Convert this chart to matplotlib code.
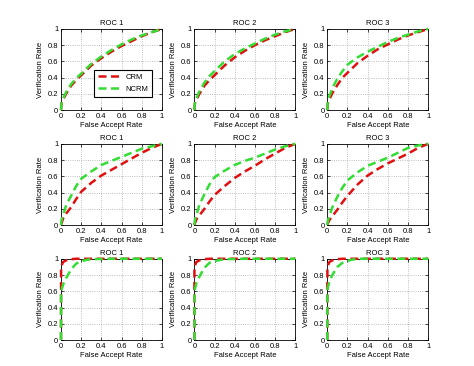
"""
plot.py
=============================
3x3 grid of ROC curves, CRM vs NCRM.
"""

import numpy as np
import matplotlib.pyplot as plt

# False accept rate grids
FAR = [0, 0.005, 0.02, 0.05, 0.1, 0.15, 0.2, 0.3, 0.4, 0.5, 0.6, 0.7, 0.8, 0.9, 1.0]
FAR_Low = [0, 0.001, 0.02, 0.05, 0.1, 0.15, 0.2, 0.25, 0.3, 0.5, 1.0]

Titles = ['ROC 1', 'ROC 2', 'ROC 3']

# Row 1
CRM_11  = [0, 0.08, 0.13, 0.20, 0.30, 0.37, 0.43, 0.55, 0.64, 0.72, 0.79, 0.85, 0.91, 0.96, 1.0]
NCRM_11 = [0, 0.09, 0.14, 0.22, 0.32, 0.39, 0.45, 0.57, 0.66, 0.74, 0.81, 0.87, 0.92, 0.96, 1.0]
CRM_12  = [0, 0.08, 0.13, 0.20, 0.30, 0.37, 0.43, 0.55, 0.65, 0.73, 0.80, 0.86, 0.91, 0.96, 1.0]
NCRM_12 = [0, 0.09, 0.15, 0.23, 0.34, 0.42, 0.48, 0.60, 0.69, 0.76, 0.82, 0.88, 0.93, 0.97, 1.0]
CRM_13  = [0, 0.08, 0.13, 0.21, 0.31, 0.40, 0.46, 0.58, 0.67, 0.75, 0.81, 0.87, 0.92, 0.96, 1.0]
NCRM_13 = [0, 0.10, 0.17, 0.27, 0.39, 0.48, 0.56, 0.65, 0.72, 0.78, 0.84, 0.89, 0.93, 0.97, 1.0]

# Row 2
CRM_21  = [0, 0.02, 0.08, 0.14, 0.22, 0.32, 0.41, 0.52, 0.61, 0.68, 0.75, 0.82, 0.89, 0.95, 1.0]
NCRM_21 = [0, 0.06, 0.12, 0.24, 0.36, 0.48, 0.57, 0.66, 0.74, 0.79, 0.84, 0.89, 0.94, 0.97, 1.0]
CRM_22  = [0, 0.02, 0.07, 0.12, 0.20, 0.29, 0.37, 0.48, 0.58, 0.66, 0.73, 0.81, 0.88, 0.95, 1.0]
NCRM_22 = [0, 0.06, 0.12, 0.25, 0.38, 0.50, 0.59, 0.67, 0.74, 0.79, 0.83, 0.88, 0.93, 0.97, 1.0]
CRM_23  = [0, 0.02, 0.06, 0.11, 0.19, 0.28, 0.36, 0.50, 0.61, 0.69, 0.76, 0.82, 0.88, 0.95, 1.0]
NCRM_23 = [0, 0.05, 0.11, 0.22, 0.35, 0.46, 0.55, 0.65, 0.73, 0.78, 0.83, 0.89, 0.95, 0.98, 1.0]

# Row 3 (low FAR grid)
CRM_3x  = [0, 0.90, 0.96, 0.98, 0.995, 1.0, 1.0, 1.0, 1.0, 1.0, 1.0]
NCRM_31 = [0, 0.60, 0.68, 0.76, 0.87, 0.94, 0.97, 0.985, 0.995, 1.0, 1.0]
NCRM_32 = [0, 0.60, 0.70, 0.78, 0.89, 0.95, 0.97, 0.985, 0.995, 1.0, 1.0]
NCRM_33 = [0, 0.62, 0.72, 0.80, 0.90, 0.95, 0.975, 0.99, 1.0, 1.0, 1.0]

Plot_Data = [
	[(FAR, CRM_11, NCRM_11), (FAR, CRM_12, NCRM_12), (FAR, CRM_13, NCRM_13)],
	[(FAR, CRM_21, NCRM_21), (FAR, CRM_22, NCRM_22), (FAR, CRM_23, NCRM_23)],
	[(FAR_Low, CRM_3x, NCRM_31), (FAR_Low, CRM_3x, NCRM_32), (FAR_Low, CRM_3x, NCRM_33)],
]

plt.rcParams['font.family'] = ['Liberation Sans', 'DejaVu Sans']
plt.rcParams['font.size'] = 5

fig = plt.figure(figsize=(4.74, 3.66), dpi=100)

Lefts   = [0.1287, 0.410, 0.6905]
Bottoms = [0.699, 0.385, 0.071]
Width, Height = 0.213, 0.222

Red   = '#e01010'
Green = '#33dd33'
Ticks = np.arange(0, 1.01, 0.2)
TickLabels = ['0', '0.2', '0.4', '0.6', '0.8', '1']

for r in range(3):
	for c in range(3):
		ax = fig.add_axes([Lefts[c], Bottoms[r], Width, Height])
		x, crm, ncrm = Plot_Data[r][c]
		ax.plot(x, crm, color=Red, linewidth=1.8, linestyle=(0, (3.2, 1.8)), label='CRM', clip_on=False, zorder=3)
		ax.plot(x, ncrm, color=Green, linewidth=1.8, linestyle=(0, (3.2, 1.8)), label='NCRM', clip_on=False, zorder=3)
		ax.set_xlim(0, 1)
		ax.set_ylim(0, 1)
		ax.set_xticks(Ticks)
		ax.set_xticklabels(TickLabels)
		ax.set_yticks(Ticks)
		ax.set_yticklabels(TickLabels)
		ax.tick_params(direction='in', length=2, width=0.5, pad=2, labelsize=5.5, top=True, right=True)
		ax.grid(True, linestyle=':', color='#aaaaaa', linewidth=0.6)
		for s in ax.spines.values():
			s.set_linewidth(0.6)
		ax.set_title(Titles[c], fontsize=5.5, pad=3)
		ax.set_xlabel('False Accept Rate', fontsize=5.5, labelpad=1.5)
		ax.set_ylabel('Verification Rate', fontsize=5.5, labelpad=3)
		if r == 0 and c == 0:
			leg = ax.legend(loc='lower right', bbox_to_anchor=(0.94, 0.12), fontsize=5.5,
				fancybox=False, edgecolor='black', framealpha=1, handlelength=3.0,
				borderpad=0.5, labelspacing=0.6, handletextpad=0.6)
			leg.get_frame().set_linewidth(0.8)

plt.savefig('out.png', dpi=100)
plt.close()
